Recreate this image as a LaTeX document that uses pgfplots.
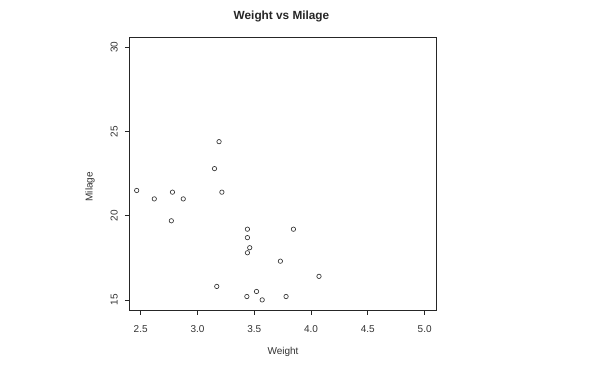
\documentclass[border=0pt]{standalone}
\usepackage{fontspec}
\setmainfont{Liberation Sans}
\usepackage{pgfplots}
\pgfplotsset{compat=1.18}
\begin{document}
\begin{tikzpicture}[x=1pt,y=1pt]
\path[use as bounding box, fill=white] (0,0) rectangle (600,365);
\begin{axis}[
  at={(129.3pt,55pt)}, anchor=south west,
  scale only axis, width=306.7pt, height=272.7pt,
  xmin=2.4, xmax=5.1, ymin=14.4, ymax=30.6,
  xtick={2.5,3,3.5,4,4.5,5},
  xticklabels={2.5,3.0,3.5,4.0,4.5,5.0},
  ytick={15,20,25,30},
  yticklabels={15,20,25,30},
  tick align=outside,
  xtick pos=bottom, ytick pos=left,
  major tick length=4.5pt,
  tick style={black!85, line width=0.7pt},
  axis line style={black!85, line width=0.8pt},
  ticklabel style={font=\fontsize{10}{12}\selectfont, text=black!80},
  xticklabel style={anchor=north, inner sep=0pt, yshift=-11pt},
  yticklabel style={rotate=90, anchor=south, inner sep=0pt, yshift=7pt},
  clip=false,
]
\addplot[only marks, mark=o, mark size=2.2pt, mark options={line width=0.65pt, draw=black!80}] coordinates {
(2.465,21.5) (2.620,21.0) (2.780,21.4) (2.875,21.0) (2.770,19.7)
(3.190,24.4) (3.150,22.8) (3.215,21.4) (3.440,19.2) (3.440,18.7)
(3.460,18.1) (3.440,17.8) (3.845,19.2) (3.730,17.3) (4.070,16.4)
(3.170,15.8) (3.520,15.5) (3.435,15.2) (3.570,15.0) (3.780,15.2)
};
\end{axis}
\node[font=\bfseries\fontsize{11.8}{14}\selectfont, text=black!85] at (281.5,349) {Weight vs Milage};
\node[font=\fontsize{10}{12}\selectfont, text=black!80] at (283,13.3) {Weight};
\node[font=\fontsize{10}{12}\selectfont, text=black!80, rotate=90] at (90,178.3) {Milage};
\end{tikzpicture}
\end{document}
